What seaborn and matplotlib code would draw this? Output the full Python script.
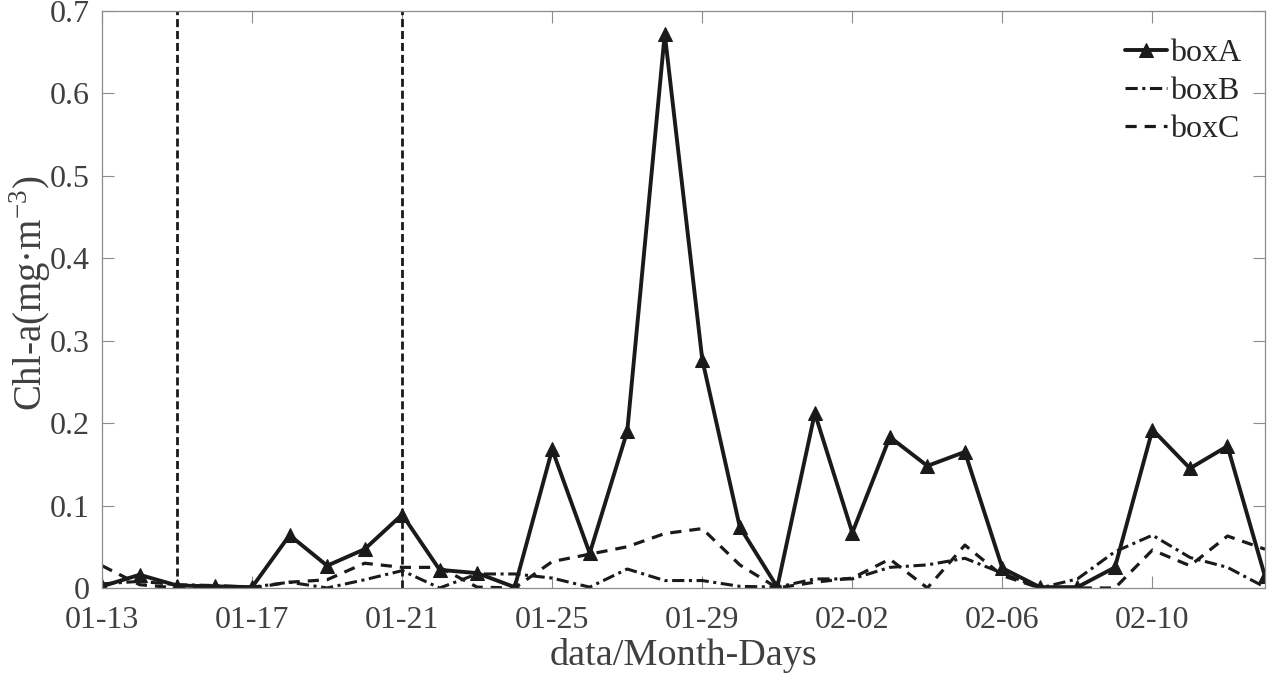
import numpy as np
import pandas as pd
import seaborn as sns
import matplotlib.pyplot as plt

# Daily Chl-a values per box
dates = ["01-13", "01-14", "01-15", "01-16", "01-17", "01-18", "01-19", "01-20",
         "01-21", "01-22", "01-23", "01-24", "01-25", "01-26", "01-27", "01-28",
         "01-29", "01-30", "01-31", "02-01", "02-02", "02-03", "02-04", "02-05",
         "02-06", "02-07", "02-08", "02-09", "02-10", "02-11", "02-12", "02-13"]
box_a = [0.002, 0.016, 0.003, 0.002, 0.001, 0.064, 0.027, 0.047, 0.089, 0.022,
         0.018, 0.001, 0.168, 0.042, 0.190, 0.672, 0.277, 0.074, 0.001, 0.212,
         0.067, 0.183, 0.148, 0.165, 0.024, 0.001, 0.001, 0.025, 0.192, 0.145,
         0.172, 0.014]
box_b = [0.005, 0.008, 0.004, 0.003, 0.001, 0.007, 0.000, 0.010, 0.021, 0.000,
         0.017, 0.017, 0.012, 0.001, 0.023, 0.009, 0.009, 0.002, 0.001, 0.011,
         0.011, 0.025, 0.028, 0.036, 0.018, 0.000, 0.011, 0.044, 0.064, 0.037,
         0.025, 0.001]
box_c = [0.027, 0.004, 0.000, 0.000, 0.000, 0.007, 0.010, 0.030, 0.025, 0.025,
         0.001, 0.000, 0.032, 0.041, 0.050, 0.066, 0.072, 0.028, 0.000, 0.007,
         0.012, 0.035, 0.000, 0.052, 0.015, 0.000, 0.000, 0.000, 0.046, 0.027,
         0.063, 0.047]
tick_labels = ["01-13", "01-17", "01-21", "01-25", "01-29", "02-02", "02-06", "02-10"]
event_dates = ["01-15", "01-21"]
y_ticks = [0, 0.1, 0.2, 0.3, 0.4, 0.5, 0.6, 0.7]

sns.set_style("ticks")
plt.rcParams['font.family'] = ['Liberation Serif', 'DejaVu Serif']
plt.rcParams['mathtext.fontset'] = 'custom'
plt.rcParams['mathtext.rm'] = 'Liberation Serif'

df = pd.DataFrame({"day": np.arange(len(dates)), "boxA": box_a,
                   "boxB": box_b, "boxC": box_c})

grey = "#8c8c8c"
text_grey = "#404040"
line_col = "#1a1a1a"

fig = plt.figure(figsize=(12.72, 6.81), dpi=100)
ax = fig.add_axes([0.0802, 0.1366, 0.9143, 0.8477])

sns.lineplot(data=df, x="day", y="boxA", ax=ax, color=line_col, lw=2.8,
             marker="^", markersize=10, markeredgecolor=line_col, label="boxA")
sns.lineplot(data=df, x="day", y="boxB", ax=ax, color=line_col, lw=2.2,
             linestyle=(0, (4, 1.5, 1, 1.5)), label="boxB")
sns.lineplot(data=df, x="day", y="boxC", ax=ax, color=line_col, lw=2.3,
             linestyle=(0, (3.5, 2.5)), label="boxC")

# event markers
for d in event_dates:
    ax.axvline(dates.index(d), color=line_col, lw=2.0, linestyle=(0, (2.9, 1.4)))

ax.set_xlim(0, len(dates) - 1)
ax.set_ylim(0, 0.7)
ax.set_xticks([dates.index(t) for t in tick_labels])
ax.set_xticklabels(tick_labels)
ax.set_yticks(y_ticks)
ax.set_yticklabels(["0"] + [f"{v:.1f}" for v in y_ticks[1:]])

ax.tick_params(direction="in", length=8.5, width=0.8, color=grey,
               labelsize=23, labelcolor=text_grey, top=True, right=True)
ax.tick_params(axis="x", pad=13)
ax.tick_params(axis="y", pad=9)
for s in ax.spines.values():
    s.set_visible(True)
    s.set_color(grey)
    s.set_linewidth(0.9)

ax.set_xlabel("data/Month-Days", fontsize=27.5, color=text_grey, labelpad=2)
ax.set_ylabel(r"Chl-a(mg·m$^{\mathrm{-3}}$)", fontsize=28, color=text_grey)
ax.yaxis.set_label_coords(-0.042, 0.51)

ax.legend(loc="upper right", bbox_to_anchor=(0.996, 0.984), frameon=False,
          fontsize=23, handlelength=1.3, handletextpad=0.1, labelspacing=0.26,
          borderaxespad=0.2)

fig.savefig("out.png", dpi=100)
